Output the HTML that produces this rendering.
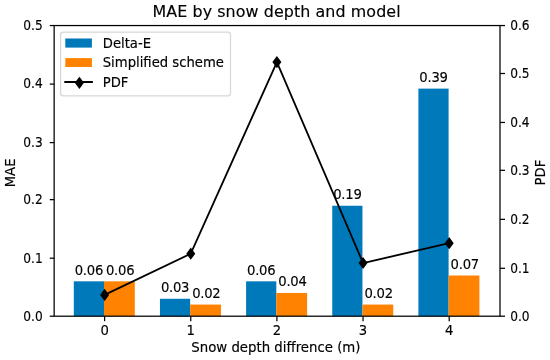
<!DOCTYPE html>
<html><head><meta charset="utf-8"><title>MAE by snow depth and model</title>
<style>html,body{margin:0;padding:0;background:#fff}svg{display:block}text{font-family:"DejaVu Sans","Liberation Sans",sans-serif;fill:#000;stroke:#000;stroke-width:0.15px}</style></head>
<body>
<svg width="550" height="360" viewBox="0 0 550 360">
<rect width="550" height="360" fill="#fff"/>
<rect x="73.80" y="281.32" width="30.2" height="34.88" fill="#0079ba"/>
<rect x="104.00" y="281.32" width="30.8" height="34.88" fill="#ff8200"/>
<text x="88.92" y="274.72" font-size="13.2" text-anchor="middle" letter-spacing="-0.25">0.06</text>
<text x="120.17" y="274.72" font-size="13.2" text-anchor="middle" letter-spacing="-0.25">0.06</text>
<rect x="159.95" y="298.76" width="30.2" height="17.44" fill="#0079ba"/>
<rect x="190.15" y="304.57" width="30.8" height="11.63" fill="#ff8200"/>
<text x="175.08" y="292.16" font-size="13.2" text-anchor="middle" letter-spacing="-0.25">0.03</text>
<text x="206.32" y="297.97" font-size="13.2" text-anchor="middle" letter-spacing="-0.25">0.02</text>
<rect x="246.10" y="281.32" width="30.2" height="34.88" fill="#0079ba"/>
<rect x="276.30" y="292.95" width="30.8" height="23.25" fill="#ff8200"/>
<text x="261.22" y="274.72" font-size="13.2" text-anchor="middle" letter-spacing="-0.25">0.06</text>
<text x="292.47" y="286.35" font-size="13.2" text-anchor="middle" letter-spacing="-0.25">0.04</text>
<rect x="332.25" y="205.75" width="30.2" height="110.45" fill="#0079ba"/>
<rect x="362.45" y="304.57" width="30.8" height="11.63" fill="#ff8200"/>
<text x="347.38" y="199.15" font-size="13.2" text-anchor="middle" letter-spacing="-0.25">0.19</text>
<text x="378.63" y="297.97" font-size="13.2" text-anchor="middle" letter-spacing="-0.25">0.02</text>
<rect x="418.40" y="88.62" width="30.2" height="227.58" fill="#0079ba"/>
<rect x="448.60" y="275.51" width="30.8" height="40.69" fill="#ff8200"/>
<text x="433.53" y="82.02" font-size="13.2" text-anchor="middle" letter-spacing="-0.25">0.39</text>
<text x="464.78" y="268.91" font-size="13.2" text-anchor="middle" letter-spacing="-0.25">0.07</text>
<rect x="54.15" y="25.55" width="445.85" height="290.65" fill="none" stroke="#000" stroke-width="1.25"/>
<line x1="49.75" x2="54.15" y1="316.20" y2="316.20" stroke="#000" stroke-width="1.25"/>
<text transform="translate(42.7,320.50) scale(0.925,1)" font-size="13.2" text-anchor="end">0.0</text>
<line x1="49.75" x2="54.15" y1="258.20" y2="258.20" stroke="#000" stroke-width="1.25"/>
<text transform="translate(42.7,262.50) scale(0.925,1)" font-size="13.2" text-anchor="end">0.1</text>
<line x1="49.75" x2="54.15" y1="199.65" y2="199.65" stroke="#000" stroke-width="1.25"/>
<text transform="translate(42.7,203.95) scale(0.925,1)" font-size="13.2" text-anchor="end">0.2</text>
<line x1="49.75" x2="54.15" y1="142.60" y2="142.60" stroke="#000" stroke-width="1.25"/>
<text transform="translate(42.7,146.90) scale(0.925,1)" font-size="13.2" text-anchor="end">0.3</text>
<line x1="49.75" x2="54.15" y1="84.10" y2="84.10" stroke="#000" stroke-width="1.25"/>
<text transform="translate(42.7,88.40) scale(0.925,1)" font-size="13.2" text-anchor="end">0.4</text>
<line x1="49.75" x2="54.15" y1="25.55" y2="25.55" stroke="#000" stroke-width="1.25"/>
<text transform="translate(42.7,29.85) scale(0.925,1)" font-size="13.2" text-anchor="end">0.5</text>
<line x1="500.0" x2="505.0" y1="316.20" y2="316.20" stroke="#000" stroke-width="1.25"/>
<text transform="translate(510.2,320.50) scale(0.925,1)" font-size="13.2">0.0</text>
<line x1="500.0" x2="505.0" y1="268.30" y2="268.30" stroke="#000" stroke-width="1.25"/>
<text transform="translate(510.2,272.60) scale(0.925,1)" font-size="13.2">0.1</text>
<line x1="500.0" x2="505.0" y1="219.35" y2="219.35" stroke="#000" stroke-width="1.25"/>
<text transform="translate(510.2,223.65) scale(0.925,1)" font-size="13.2">0.2</text>
<line x1="500.0" x2="505.0" y1="170.30" y2="170.30" stroke="#000" stroke-width="1.25"/>
<text transform="translate(510.2,174.60) scale(0.925,1)" font-size="13.2">0.3</text>
<line x1="500.0" x2="505.0" y1="122.45" y2="122.45" stroke="#000" stroke-width="1.25"/>
<text transform="translate(510.2,126.75) scale(0.925,1)" font-size="13.2">0.4</text>
<line x1="500.0" x2="505.0" y1="73.50" y2="73.50" stroke="#000" stroke-width="1.25"/>
<text transform="translate(510.2,77.80) scale(0.925,1)" font-size="13.2">0.5</text>
<line x1="500.0" x2="505.0" y1="25.55" y2="25.55" stroke="#000" stroke-width="1.25"/>
<text transform="translate(510.2,29.85) scale(0.925,1)" font-size="13.2">0.6</text>
<line x1="104.60" x2="104.60" y1="316.2" y2="321.2" stroke="#000" stroke-width="1.25"/>
<text x="104.60" y="335.3" font-size="13.2" text-anchor="middle">0</text>
<line x1="190.75" x2="190.75" y1="316.2" y2="321.2" stroke="#000" stroke-width="1.25"/>
<text x="190.75" y="335.3" font-size="13.2" text-anchor="middle">1</text>
<line x1="276.90" x2="276.90" y1="316.2" y2="321.2" stroke="#000" stroke-width="1.25"/>
<text x="276.90" y="335.3" font-size="13.2" text-anchor="middle">2</text>
<line x1="363.05" x2="363.05" y1="316.2" y2="321.2" stroke="#000" stroke-width="1.25"/>
<text x="363.05" y="335.3" font-size="13.2" text-anchor="middle">3</text>
<line x1="449.20" x2="449.20" y1="316.2" y2="321.2" stroke="#000" stroke-width="1.25"/>
<text x="449.20" y="335.3" font-size="13.2" text-anchor="middle">4</text>
<polyline fill="none" stroke="#000" stroke-width="1.8" stroke-linejoin="round" points="104.60,294.89 190.75,253.71 276.90,62.03 363.05,263.01 449.20,243.20"/>
<polygon points="104.60,288.79 109.10,294.89 104.60,300.99 100.10,294.89" fill="#000"/>
<polygon points="190.75,247.61 195.25,253.71 190.75,259.81 186.25,253.71" fill="#000"/>
<polygon points="276.90,55.93 281.40,62.03 276.90,68.13 272.40,62.03" fill="#000"/>
<polygon points="363.05,256.91 367.55,263.01 363.05,269.11 358.55,263.01" fill="#000"/>
<polygon points="449.20,237.10 453.70,243.20 449.20,249.30 444.70,243.20" fill="#000"/>
<rect x="60.6" y="32.2" width="169.9" height="63.7" rx="2.6" ry="2.6" fill="#fff" fill-opacity="0.8" stroke="#ccc" stroke-opacity="0.8" stroke-width="1.2"/>
<rect x="65.3" y="38.5" width="26.6" height="9.1" fill="#0079ba"/>
<rect x="65.3" y="58.1" width="26.6" height="8.9" fill="#ff8200"/>
<line x1="65.3" x2="91.9" y1="82" y2="82" stroke="#000" stroke-width="2" stroke-linecap="square"/>
<polygon points="79.40,76.70 84.00,82.80 79.40,88.90 74.80,82.80" fill="#000"/>
<text x="102.75" y="47.7" font-size="13.2">Delta-E</text>
<text x="102.75" y="67.4" font-size="13.2">Simplified scheme</text>
<text x="102.75" y="87.2" font-size="13.2">PDF</text>
<text x="276.6" y="17.3" font-size="15.9" letter-spacing="0.08" text-anchor="middle">MAE by snow depth and model</text>
<text x="275.9" y="351.8" font-size="13.3" text-anchor="middle">Snow depth diffrence (m)</text>
<text transform="translate(14.6,172.9) rotate(-90)" font-size="13.2" text-anchor="middle">MAE</text>
<text transform="translate(544.8,172.6) rotate(-90)" font-size="13.2" text-anchor="middle">PDF</text>
</svg>
</body></html>
